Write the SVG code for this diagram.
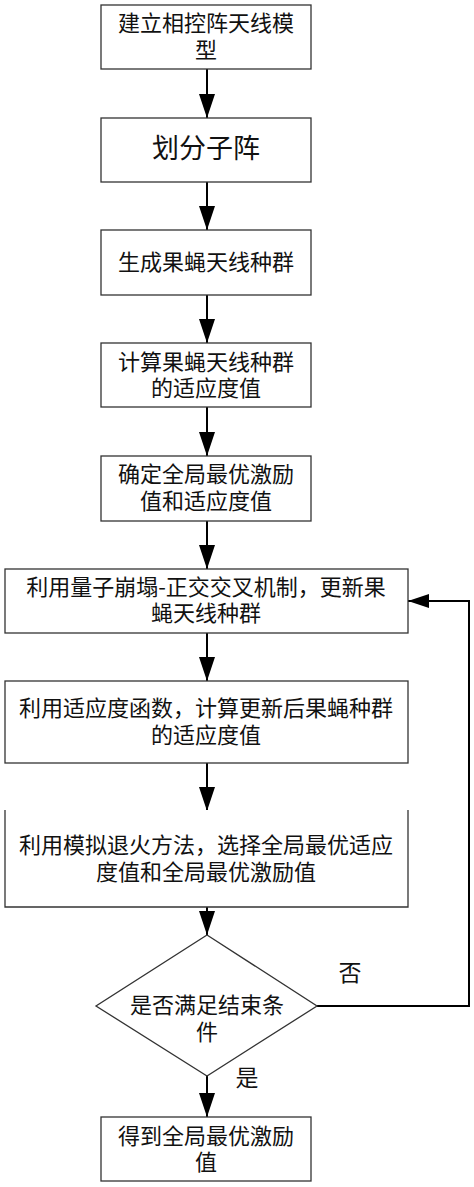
<svg xmlns="http://www.w3.org/2000/svg" width="474" height="1187" viewBox="0 0 474 1187">
<style>
.box{fill:#fff;stroke:#333;stroke-width:1.3}
.t{font-family:"Noto Sans CJK SC","Noto Sans CJK JP",sans-serif;font-size:22px;fill:#111;text-anchor:middle}
.c{fill:none;stroke:#000;stroke-width:2}
</style>
<defs>
<marker id="ah" viewBox="0 0 24 16" refX="24" refY="8" markerWidth="24" markerHeight="16" markerUnits="userSpaceOnUse" orient="auto">
<path d="M0,0 L24,8 L0,16 z" fill="#000"/>
</marker>
<marker id="ah2" viewBox="0 0 21 14" refX="21" refY="7" markerWidth="21" markerHeight="14" markerUnits="userSpaceOnUse" orient="auto">
<path d="M0,0 L21,7 L0,14 z" fill="#000"/>
</marker>
</defs>
<rect width="474" height="1187" fill="#fff"/>
<g id="connectors">
<line class="c" x1="207" y1="69" x2="207" y2="118" marker-end="url(#ah)"/>
<line class="c" x1="207" y1="182" x2="207" y2="230" marker-end="url(#ah)"/>
<line class="c" x1="207" y1="295" x2="207" y2="343" marker-end="url(#ah)"/>
<line class="c" x1="207" y1="407" x2="207" y2="456" marker-end="url(#ah)"/>
<line class="c" x1="207" y1="521" x2="207" y2="569" marker-end="url(#ah)"/>
<line class="c" x1="207" y1="633" x2="207" y2="681" marker-end="url(#ah)"/>
<line class="c" x1="207" y1="763" x2="207" y2="811" marker-end="url(#ah)"/>
<line class="c" x1="207" y1="907" x2="207" y2="935" marker-end="url(#ah)"/>
<line class="c" x1="207" y1="1076" x2="207" y2="1117" marker-end="url(#ah)"/>
<polyline class="c" points="317,1006 469,1006 469,601 408,601" marker-end="url(#ah2)"/>
<text class="t" x="350" y="981" style="font-size:23px">否</text>
<text class="t" x="247" y="1086" style="font-size:23px">是</text>
</g>
<g id="n1">
<rect class="box" x="101" y="5" width="210" height="64"/>
<text class="t" x="206" y="31">建立相控阵天线模<tspan x="206" dy="27">型</tspan></text>
</g>
<g id="n2">
<rect class="box" x="101" y="118" width="210" height="64"/>
<text class="t" x="206" y="158" style="font-size:27px">划分子阵</text>
</g>
<g id="n3">
<rect class="box" x="101" y="230" width="210" height="65"/>
<text class="t" x="206" y="270">生成果蝇天线种群</text>
</g>
<g id="n4">
<rect class="box" x="101" y="343" width="210" height="64"/>
<text class="t" x="206" y="370">计算果蝇天线种群<tspan x="206" dy="26">的适应度值</tspan></text>
</g>
<g id="n5">
<rect class="box" x="101" y="456" width="210" height="65"/>
<text class="t" x="206" y="482">确定全局最优激励<tspan x="206" dy="27">值和适应度值</tspan></text>
</g>
<g id="n6">
<rect class="box" x="5" y="569" width="403" height="64"/>
<text class="t" x="206" y="595">利用量子崩塌-正交交叉机制，更新果<tspan x="206" dy="26">蝇天线种群</tspan></text>
</g>
<g id="n7">
<rect class="box" x="5" y="681" width="403" height="82"/>
<text class="t" x="206" y="716">利用适应度函数，计算更新后果蝇种群<tspan x="206" dy="27">的适应度值</tspan></text>
</g>
<g id="n8">
<path class="box" d="M5,810 L5,907 L408,907 L408,810"/>
<text class="t" x="206" y="853">利用模拟退火方法，选择全局最优适应<tspan x="206" dy="27">度值和全局最优激励值</tspan></text>
</g>
<g id="n9">
<polygon class="box" points="207,935 317,1006 207,1076 96,1006"/>
<text class="t" x="207" y="1013">是否满足结束条<tspan x="207" dy="27">件</tspan></text>
</g>
<g id="n10">
<rect class="box" x="101" y="1117" width="210" height="64"/>
<text class="t" x="206" y="1144">得到全局最优激励<tspan x="206" dy="26">值</tspan></text>
</g>
</svg>
